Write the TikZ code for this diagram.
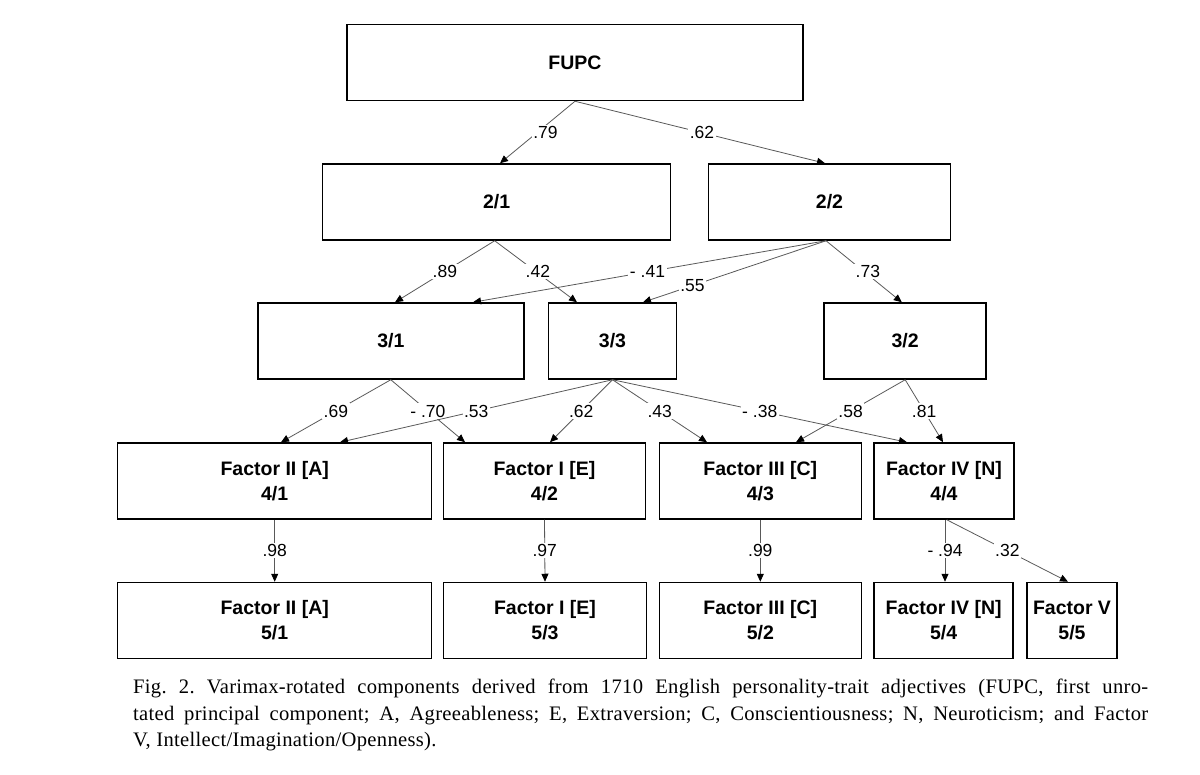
\documentclass[tikz,border=0pt]{standalone}
\usepackage{fontspec}
\setmainfont{Liberation Serif}
\newfontfamily\arialf{Liberation Sans}
\newfontfamily\capfont[LetterSpace=1.5]{Liberation Serif}
\usetikzlibrary{arrows.meta}
\tikzset{
  box/.style={draw=black, line width=1.5pt, rectangle, minimum height=76pt, inner sep=0pt,
    align=center, font=\arialf\bfseries\fontsize{19.5}{25}\selectfont},
  conn/.style={draw=black!65, line width=0.8pt, -{Triangle[length=8pt,width=7pt,color=black]}},
  lab/.style={fill=white, inner sep=1.5pt, font=\arialf\fontsize{17.5}{19}\selectfont, text=black}
}
\begin{document}
\begin{tikzpicture}[x=1pt,y=-1pt]
\useasboundingbox (0,0) rectangle (1200,775);
% row 1
\node[box, minimum width=456pt] (fupc) at (575,62.5) {FUPC};
% row 2
\node[box, minimum width=348pt] (b21) at (496.7,202) {2/1};
\node[box, minimum width=242pt] (b22) at (829.5,202) {2/2};
% row 3
\node[box, minimum width=266pt] (b31) at (390.8,341) {3/1};
\node[box, minimum width=128pt] (b33) at (612.5,341) {3/3};
\node[box, minimum width=162pt] (b32) at (905.2,341) {3/2};
% row 4
\node[box, minimum width=314pt] (b41) at (274.7,481) {Factor II [A]\\4/1};
\node[box, minimum width=202pt] (b42) at (544.5,481) {Factor I [E]\\4/2};
\node[box, minimum width=202pt] (b43) at (760.3,481) {Factor III [C]\\4/3};
\node[box, minimum width=140pt] (b44) at (944,481) {Factor IV [N]\\4/4};
% row 5
\node[box, minimum width=314pt] (b51) at (274.7,620.5) {Factor II [A]\\5/1};
\node[box, minimum width=203pt] (b53) at (545,620.5) {Factor I [E]\\5/3};
\node[box, minimum width=202pt] (b52) at (760.3,620.5) {Factor III [C]\\5/2};
\node[box, minimum width=139pt] (b54) at (943.7,620.5) {Factor IV [N]\\5/4};
\node[box, minimum width=90pt] (b55) at (1072,620.5) {Factor V\\5/5};
% connectors row 1 -> 2
\draw[conn] (fupc.south) -- node[lab, xshift=8pt] {.79} ([xshift=3.3pt]b21.north);
\draw[conn] (fupc.south) -- node[lab, xshift=2pt] {.62} ([xshift=-4.5pt]b22.north);
% row 2 -> 3
\draw[conn] ([xshift=-2pt]b21.south) -- node[lab] {.89} ([xshift=4.2pt]b31.north);
\draw[conn] ([xshift=-2pt]b21.south) -- node[lab, xshift=2pt] {.42} ([xshift=-35.5pt]b33.north);
\draw[conn] ([xshift=-3.5pt]b22.south) -- node[lab, xshift=-2pt] {- .41} ([xshift=82.2pt]b31.north);
\draw[conn] ([xshift=-3.5pt]b22.south) -- node[lab, pos=0.73] {.55} ([xshift=30.5pt]b33.north);
\draw[conn] ([xshift=-3.5pt]b22.south) -- node[lab, xshift=4pt] {.73} ([xshift=-3.4pt]b32.north);
% row 3 -> 4
\draw[conn] (b31.south) -- node[lab] {.69} ([xshift=6.3pt]b41.north);
\draw[conn] (b31.south) -- node[lab] {- .70} ([xshift=-79.5pt]b42.north);
\draw[conn] (b33.south) -- node[lab] {.53} ([xshift=65.3pt]b41.north);
\draw[conn] (b33.south) -- node[lab] {.62} ([xshift=5.5pt]b42.north);
\draw[conn] (b33.south) -- node[lab] {.43} ([xshift=-53.3pt]b43.north);
\draw[conn] (b33.south) -- node[lab] {- .38} ([xshift=-37pt]b44.north);
\draw[conn] (b32.south) -- node[lab] {.58} ([xshift=35.7pt]b43.north);
\draw[conn] (b32.south) -- node[lab] {.81} ([xshift=-1pt]b44.north);
% row 4 -> 5
\draw[conn] (b41.south) -- node[lab] {.98} (b51.north);
\draw[conn] (b42.south) -- node[lab] {.97} (b53.north);
\draw[conn] (b43.south) -- node[lab] {.99} (b52.north);
\draw[conn] ([xshift=1pt]b44.south) -- node[lab] {- .94} ([xshift=1.3pt]b54.north);
\draw[conn] ([xshift=2.7pt]b44.south) -- node[lab] {.32} ([xshift=-4pt]b55.north);
% caption
\node[anchor=north west, inner sep=0pt, text width=1015pt, align=justify,
  font=\capfont\fontsize{20.6}{26.5}\selectfont] (cap) at (133,679) {\frenchspacing Fig. 2. Varimax-rotated components derived from 1710 English personality-trait adjectives (FUPC, first unro-\linebreak tated principal component; A, Agreeableness; E, Extraversion; C, Conscientiousness; N, Neuroticism; and Factor\linebreak V, Intellect/Imagination/Openness).};
\end{tikzpicture}
\end{document}
